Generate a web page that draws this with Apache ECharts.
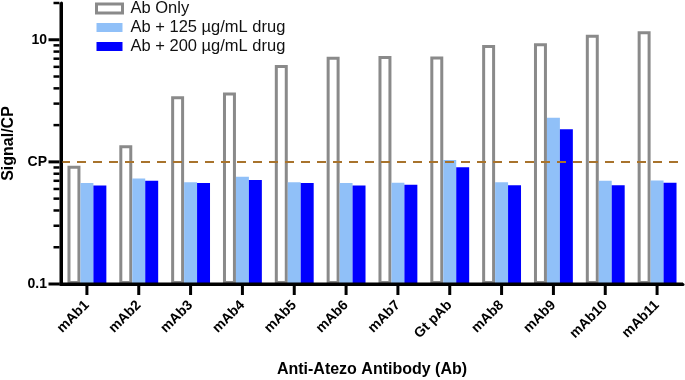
<!DOCTYPE html>
<html>
<head>
<meta charset="utf-8">
<script src="https://cdn.jsdelivr.net/npm/echarts@6/dist/echarts.min.js"></script>
<style>html,body{margin:0;padding:0;background:#fff}#c{width:685px;height:380px}</style>
</head>
<body>
<div id="c"></div>
<script>
const categories = ['mAb1','mAb2','mAb3','mAb4','mAb5','mAb6','mAb7','Gt pAb','mAb8','mAb9','mAb10','mAb11'];
const abOnly   = [0.93, 1.37, 3.45, 3.7, 6.2, 7.25, 7.35, 7.3, 9.05, 9.35, 11.0, 11.75];
const ab125    = [0.67, 0.73, 0.68, 0.755, 0.68, 0.67, 0.675, 1.035, 0.68, 2.30, 0.70, 0.705];
const ab200    = [0.64, 0.70, 0.67, 0.71, 0.67, 0.64, 0.65, 0.905, 0.645, 1.85, 0.645, 0.675];
const seriesNames = ['Ab Only', 'Ab + 125 \u00b5g/mL drug', 'Ab + 200 \u00b5g/mL drug'];
const majorTicks = [0.1, 1, 10];
const minorTicks = [0.2,0.3,0.4,0.5,0.6,0.7,0.8,0.9,2,3,4,5,6,7,8,9,20];
const cpValue = 1;
const yMin = 0.1, yMax = 20;

const FONT = 'Liberation Sans, Arial, sans-serif';
const AXIS = '#000';
const chart = echarts.init(document.getElementById('c'), null, {renderer: 'canvas'});

// helpers built only from the library's own scales
function plotEdges(api) {
  const p0 = api.coord([0, cpValue]);
  const p1 = api.coord([1, cpValue]);
  const band = Math.abs(p1[0] - p0[0]);
  const left = p0[0] - band / 2;
  const right = api.coord([categories.length - 1, cpValue])[0] + band / 2;
  const top = api.coord([0, yMax])[1];
  const bottom = api.coord([0, yMin])[1];
  return {left, right, top, bottom};
}

const frameSeries = {
  type: 'custom', name: 'frame', silent: true, clip: false, z: 10,
  data: [[0, cpValue]],
  encode: {x: 0, y: 1},
  renderItem: (params, api) => {
    const e = plotEdges(api);
    return {type: 'group', children: [
      {type: 'rect', shape: {x: e.left - 1.5, y: e.top, width: 3, height: e.bottom - e.top + 1.5}, style: {fill: AXIS}},
      {type: 'rect', shape: {x: e.left - 1.5, y: e.bottom - 1.5, width: e.right - e.left + 1.5, height: 3}, style: {fill: AXIS}}
    ]};
  }
};
const yTickSeries = {
  type: 'custom', name: 'yticks', silent: true, clip: false, z: 10,
  data: majorTicks.map(v => [0, v, 1]).concat(minorTicks.map(v => [0, v, 0])),
  encode: {x: 0, y: 1},
  renderItem: (params, api) => {
    const e = plotEdges(api);
    const y = api.coord([0, api.value(1)])[1];
    const major = api.value(2) === 1;
    const len = major ? 11 : 6;
    const w = major ? 3 : 2.5;
    return {type: 'rect', shape: {x: e.left - 1.5 - len, y: y - w / 2, width: len, height: w}, style: {fill: AXIS}};
  }
};
const xTickSeries = {
  type: 'custom', name: 'xticks', silent: true, clip: false, z: 10,
  data: categories.map((c, i) => [i, cpValue]),
  encode: {x: 0, y: 1},
  renderItem: (params, api) => {
    const e = plotEdges(api);
    const px = api.coord([api.value(0), cpValue])[0];
    return {type: 'rect', shape: {x: px - 1.5, y: e.bottom, width: 3, height: 11}, style: {fill: AXIS}};
  }
};

chart.setOption({
  animation: false,
  textStyle: {fontFamily: FONT},
  grid: {left: 61, right: 2, top: 3, bottom: 96, outerBoundsMode: 'none', containLabel: false},
  legend: {
    orient: 'vertical', left: 90, top: -5,
    itemWidth: 26, itemHeight: 9, itemGap: 2,
    textStyle: {fontFamily: FONT, fontSize: 16.5, color: '#111', padding: [0,0,0,3]},
    data: [
      {name: seriesNames[0], icon: 'rect', itemStyle: {color: '#fff', borderColor: '#8a8a8a', borderWidth: 3}},
      {name: seriesNames[1], icon: 'rect', itemStyle: {color: '#90c0f8', borderWidth: 0}},
      {name: seriesNames[2], icon: 'rect', itemStyle: {color: '#0000ff', borderWidth: 0}}
    ]
  },
  xAxis: {
    type: 'category', data: categories,
    name: 'Anti-Atezo Antibody (Ab)', nameLocation: 'middle', nameGap: 78,
    nameTextStyle: {fontFamily: FONT, fontSize: 16, fontWeight: 'bold', color: '#000'},
    axisLine: {lineStyle: {color: AXIS, width: 3}},
    axisTick: {show: false},
    axisLabel: {rotate: 45, margin: 19, fontFamily: FONT, fontSize: 14, fontWeight: 'bold', color: '#000', interval: 0}
  },
  yAxis: {
    type: 'log', logBase: 10, min: yMin, max: yMax, startValue: yMin,
    name: 'Signal/CP', nameLocation: 'middle', nameGap: 33,
    nameTextStyle: {fontFamily: FONT, fontSize: 16, fontWeight: 'bold', color: '#000'},
    axisLine: {show: true, onZero: false, lineStyle: {color: AXIS, width: 3}},
    axisTick: {show: false},
    axisLabel: {customValues: majorTicks, margin: 14, fontFamily: FONT, fontSize: 14, fontWeight: 'bold', color: '#000',
      formatter: v => (Math.abs(v - cpValue) < 1e-9 ? 'CP' : (v >= 1 ? String(Math.round(v)) : String(v)))},
    splitLine: {show: false}
  },
  series: [
    {name: seriesNames[0], type: 'bar', data: abOnly, barGap: '0%', barCategoryGap: '25%',
     itemStyle: {color: '#fff', borderColor: '#8a8a8a', borderWidth: 3}},
    {name: seriesNames[1], type: 'bar', data: ab125, barGap: '0%', barCategoryGap: '25%',
     itemStyle: {color: '#90c0f8'}},
    {name: seriesNames[2], type: 'bar', data: ab200, barGap: '0%', barCategoryGap: '25%',
     itemStyle: {color: '#0000ff'},
     markLine: {silent: true, symbol: ['none','none'], label: {show: false},
       lineStyle: {color: '#a8732c', width: 2, type: [9, 7]},
       data: [{yAxis: cpValue}]}},
    frameSeries, yTickSeries, xTickSeries
  ]
});
</script>
</body>
</html>
